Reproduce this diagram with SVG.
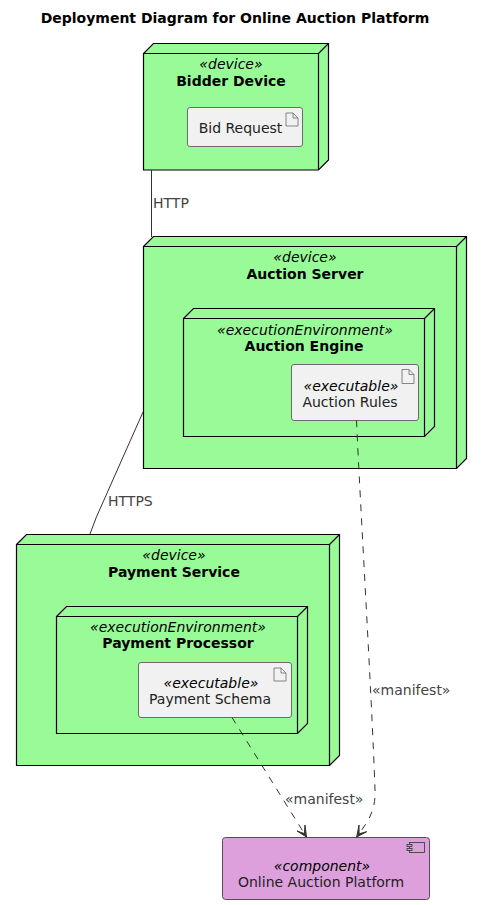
<svg xmlns="http://www.w3.org/2000/svg" width="482" height="905" viewBox="0 0 482 905">
<style>
text{font-family:"DejaVu Sans",sans-serif;text-anchor:middle;fill:#000}
.node{fill:#98FB98;stroke:#000;stroke-width:1.2}
.nl{fill:none;stroke:#000;stroke-width:1.2}
.art{fill:#F1F1F1;stroke:#6b6b6b;stroke-width:1}
.icon{fill:#F1F1F1;stroke:#6b6b6b;stroke-width:.8}
.st{font-size:14px;font-style:italic}
.nm{font-size:14px;font-weight:bold}
.tx{font-size:14px;fill:#222}
.lb{font-size:14px;fill:#444;text-anchor:start}
.solid{fill:none;stroke:#333;stroke-width:1}
.dash{fill:none;stroke:#333;stroke-width:1;stroke-dasharray:7 7}
.head{fill:#333;stroke:#333;stroke-width:1}
</style>
<text x="235" y="23" style="font-size:14px;font-weight:bold">Deployment Diagram for Online Auction Platform</text>
<g id="bidder-device">
<path class="node" d="M143.500 53.500L153.500 43.500H328.500V160L318.500 170H143.500Z"/>
<path class="nl" d="M143.500 53.500H318.500V170M318.500 53.500L328.500 43.500"/>
<text class="st" x="231" y="69">«device»</text>
<text class="nm" x="231" y="86">Bidder Device</text>
</g>
<g id="bid-request">
<rect class="art" x="187.500" y="107.500" width="115" height="39" rx="2.500"/>
<path class="icon" d="M286 113H293L298 118V126H286ZM293 113V118H298"/>
<text class="tx" x="240.500" y="133">Bid Request</text>
</g>
<g id="auction-server">
<path class="node" d="M143.500 246.500L153.500 236.500H466.500V458.500L456.500 468.500H143.500Z"/>
<path class="nl" d="M143.500 246.500H456.500V468.500M456.500 246.500L466.500 236.500"/>
<text class="st" x="305" y="262">«device»</text>
<text class="nm" x="305" y="279">Auction Server</text>
</g>
<g id="auction-engine">
<path class="node" d="M183.500 318.500L193.500 308.500H434.500V426.500L424.500 436.500H183.500Z"/>
<path class="nl" d="M183.500 318.500H424.500V436.500M424.500 318.500L434.500 308.500"/>
<text class="st" x="305" y="335">«executionEnvironment»</text>
<text class="nm" x="304" y="351">Auction Engine</text>
</g>
<g id="auction-rules">
<rect class="art" x="291.500" y="364.500" width="127" height="56" rx="2.500"/>
<path class="icon" d="M402 369.500H409L414 374.500V383.500H402ZM409 369.500V374.500H414"/>
<text class="st" x="351" y="391">«executable»</text>
<text class="tx" x="350" y="407">Auction Rules</text>
</g>
<g id="payment-service">
<path class="node" d="M16.500 544.500L26.500 534.500H339.500V755.500L329.500 765.500H16.500Z"/>
<path class="nl" d="M16.500 544.500H329.500V765.500M329.500 544.500L339.500 534.500"/>
<text class="st" x="174" y="560">«device»</text>
<text class="nm" x="174" y="577">Payment Service</text>
</g>
<g id="payment-processor">
<path class="node" d="M56.500 616.500L66.500 606.500H307.500V723.500L297.500 733.500H56.500Z"/>
<path class="nl" d="M56.500 616.500H297.500V733.500M297.500 616.500L307.500 606.500"/>
<text class="st" x="178" y="632">«executionEnvironment»</text>
<text class="nm" x="178" y="648">Payment Processor</text>
</g>
<g id="payment-schema">
<rect class="art" x="138.500" y="662.500" width="153" height="55" rx="2.500"/>
<path class="icon" d="M274 668H281L286 673V681H274ZM281 668V673H286"/>
<text class="st" x="211" y="688">«executable»</text>
<text class="tx" x="210" y="704">Payment Schema</text>
</g>
<g id="online-auction-platform">
<rect x="222.500" y="837.500" width="207" height="62" rx="3" fill="#DDA0DD" stroke="#5a4a5a" stroke-width="1"/>
<rect x="409.500" y="842.500" width="15" height="10" fill="#DDA0DD" stroke="#333" stroke-width=".8"/>
<rect x="407" y="844.500" width="5" height="2" fill="#DDA0DD" stroke="#333" stroke-width=".8"/>
<rect x="407" y="848.500" width="5" height="2" fill="#DDA0DD" stroke="#333" stroke-width=".8"/>
<text class="st" x="322" y="871">«component»</text>
<text class="tx" x="321" y="887">Online Auction Platform</text>
</g>
<g id="connectors">
<path class="solid" d="M151.500 170V237"/>
<path class="solid" d="M143 412L96 518L90 534"/>
<path class="dash" d="M356.500 420.500C360 500 372 700 375 790C376 810 368 822 356.500 837"/>
<path class="dash" d="M232 717.500L306.500 837"/>
<path class="head" d="M306.500 837L297 831L304.400 833.600L305 825Z"/>
<path class="head" d="M356.700 837L359 825L359.100 833.800L366.700 831.700Z"/>
<text class="lb" x="153" y="208">HTTP</text>
<text class="lb" x="108" y="506">HTTPS</text>
<text class="lb" x="372" y="695">«manifest»</text>
<text class="lb" x="285" y="804">«manifest»</text>
</g>
</svg>
